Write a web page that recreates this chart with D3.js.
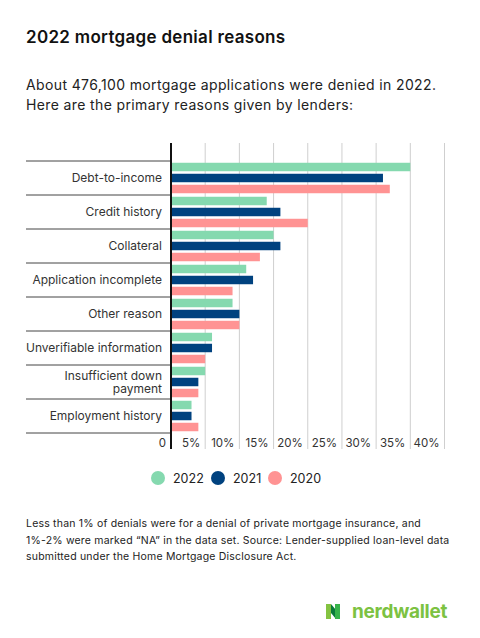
<!DOCTYPE html>
<html>
<head>
<meta charset="utf-8">
<script src="https://cdn.jsdelivr.net/npm/d3@7"></script>
<style>
  body { margin: 0; background: #fff; }
  text { font-family: Inter, "Noto Sans", sans-serif; fill: #222; }
</style>
</head>
<body>
<div id="chart"></div>
<script>
// data (percent of denials)
const reasons = ["Debt-to-income", "Credit history", "Collateral", "Application incomplete",
                 "Other reason", "Unverifiable information", "Insufficient down payment", "Employment history"];
const years = ["2022", "2021", "2020"];
const values2022 = [35, 14, 15, 11, 9, 6, 5, 3];
const values2021 = [31, 16, 16, 12, 10, 6, 4, 3];
const values2020 = [32, 20, 13, 9, 10, 5, 4, 4];
const xTicks = [0, 5, 10, 15, 20, 25, 30, 35, 40];
const colors = ["#85d9af", "#00427f", "#ff9393"];

const series = { "2022": values2022, "2021": values2021, "2020": values2020 };

const width = 480, height = 638;

const svg = d3.select("#chart").append("svg")
    .attr("width", width)
    .attr("height", height);

// titles
svg.append("text")
    .attr("x", 26).attr("y", 43)
    .style("font-size", "17px").style("font-weight", 600).style("fill", "#111")
    .style("letter-spacing", "0.3px")
    .text("2022 mortgage denial reasons");

const sub = ["About 476,100 mortgage applications were denied in 2022.",
             "Here are the primary reasons given by lenders:"];
svg.selectAll(".sub").data(sub).enter().append("text")
    .attr("class", "sub")
    .attr("x", 26).attr("y", (d, i) => 90 + i * 20)
    .style("font-size", "14px")
    .style("letter-spacing", "0.37px")
    .text(d => d);

// scales
const x = d3.scaleLinear().domain([0, 40]).range([171, 444.5]);
const y = d3.scaleBand().domain(reasons).range([161, 433]);
const yInner = d3.scaleBand().domain(years).range([0, y.bandwidth()])
    .paddingInner(0.23).paddingOuter(0.16);

const gridTop = 143, gridBottom = 449;

// gridlines
svg.selectAll(".grid").data(xTicks.slice(1)).enter().append("line")
    .attr("x1", d => x(d)).attr("x2", d => x(d))
    .attr("y1", gridTop).attr("y2", gridBottom)
    .attr("stroke", "#cfcfcf").attr("stroke-width", 1);

// separators in the label column
svg.selectAll(".sep").data(reasons.concat(["end"])).enter().append("line")
    .attr("x1", 26).attr("x2", x(0))
    .attr("y1", (d, i) => i < reasons.length ? y(d) : y.range()[1])
    .attr("y2", (d, i) => i < reasons.length ? y(d) : y.range()[1])
    .attr("stroke", "#444").attr("stroke-width", 1);

// bars
const groups = svg.selectAll(".grp").data(reasons).enter().append("g")
    .attr("transform", d => `translate(0,${y(d)})`);

groups.selectAll("rect")
    .data((d, i) => years.map((yr, j) => ({ yr: yr, v: series[yr][i], c: colors[j] })))
    .enter().append("rect")
    .attr("x", x(0))
    .attr("y", d => yInner(d.yr))
    .attr("width", d => x(d.v) - x(0))
    .attr("height", yInner.bandwidth())
    .attr("fill", d => d.c);

// category labels
const labelLines = {
    "Insufficient down payment": ["Insufficient down", "payment"]
};
groups.each(function (d) {
    const lines = labelLines[d] || [d];
    const t = d3.select(this).append("text")
        .attr("text-anchor", "end")
        .style("font-size", "12px")
        .style("fill", "#333");
    lines.forEach((ln, k) => {
        t.append("tspan")
            .attr("x", 162)
            .attr("y", y.bandwidth() / 2 + 4.3 + (k - (lines.length - 1) / 2) * 13.5)
            .text(ln);
    });
});

// zero axis
svg.append("line")
    .attr("x1", x(0)).attr("x2", x(0))
    .attr("y1", gridTop).attr("y2", gridBottom)
    .attr("stroke", "#111").attr("stroke-width", 2);

// tick labels, right-aligned just left of each gridline
svg.selectAll(".tick").data(xTicks).enter().append("text")
    .attr("x", d => x(d) - 5)
    .attr("y", 447)
    .attr("text-anchor", "end")
    .style("font-size", "11.5px")
    .style("fill", "#333")
    .text(d => d === 0 ? "0" : d + "%");

// legend
const legendX = [158, 218, 275];
const legend = svg.selectAll(".leg").data(years).enter().append("g")
    .attr("transform", (d, i) => `translate(${legendX[i]},478)`);
legend.append("circle").attr("r", 7).attr("fill", (d, i) => colors[i]);
legend.append("text").attr("x", 15).attr("y", 4.5)
    .style("font-size", "12.5px").style("fill", "#222")
    .text(d => d);

// footnote
const note = ["Less than 1% of denials were for a denial of private mortgage insurance, and",
              "1%-2% were marked \u201cNA\u201d in the data set. Source: Lender-supplied loan-level data",
              "submitted under the Home Mortgage Disclosure Act."];
svg.selectAll(".note").data(note).enter().append("text")
    .attr("x", 26).attr("y", (d, i) => 527 + i * 16.7)
    .style("font-size", "10.5px").style("fill", "#222")
    .style("letter-spacing", "0.2px")
    .text(d => d);

// logo
const logo = svg.append("g").attr("transform", "translate(326,604)");
logo.append("polygon").attr("points", "0,0 5,0 5,15 0,15").attr("fill", "#84c341");
logo.append("polygon").attr("points", "5,0 10,6 10,15 5,9").attr("fill", "#0a7a3a");
logo.append("polygon").attr("points", "9,0 14,0 14,15 9,15").attr("fill", "#36b34a");
logo.append("text").attr("x", 26).attr("y", 14)
    .style("font-size", "19px").style("font-weight", 700).style("fill", "#7cc242")
    .style("letter-spacing", "-0.3px")
    .text("nerdwallet");
</script>
</body>
</html>
